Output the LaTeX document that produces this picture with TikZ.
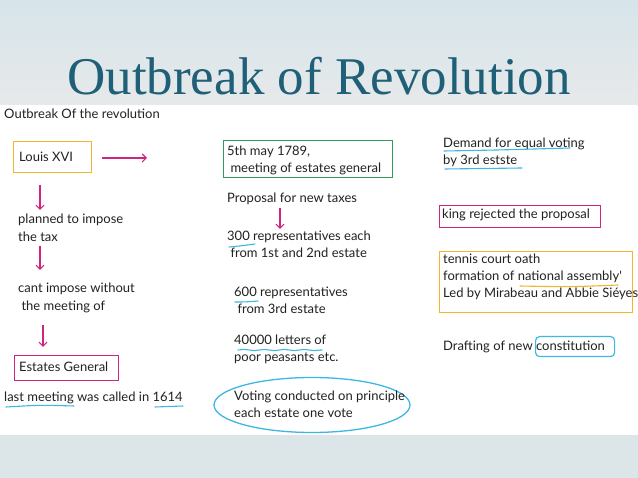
\documentclass[tikz,border=0pt]{standalone}
\usepackage{fontspec}
\setmainfont{Liberation Serif}
\newfontfamily\hand{Lato}
\usetikzlibrary{arrows.meta,shapes.geometric,decorations.pathmorphing}
\definecolor{titleblue}{HTML}{1F5F78}
\definecolor{mag}{HTML}{D0257F}
\definecolor{gold}{HTML}{F2B52C}
\definecolor{grn}{HTML}{2E9E57}
\definecolor{cyn}{HTML}{3DB8E3}
\definecolor{ink}{HTML}{222222}
\definecolor{bgtop}{HTML}{D6E5EA}
\definecolor{bgmid}{HTML}{E7E9EA}
\definecolor{bgbot}{HTML}{DCE6E9}
\tikzset{
  txt/.style={anchor=base west,inner sep=0pt,font=\hand\fontsize{13}{17}\selectfont,text=ink,align=left},
  boxy/.style={draw,line width=1.3pt,inner sep=0pt},
  arr/.style={draw=mag,line width=1.1pt,-{Straight Barb[length=4pt,width=8pt]}},
  uline/.style={draw=cyn,line width=1.1pt,line cap=round},
}
\begin{document}
\begin{tikzpicture}[x=1pt,y=-1pt]
\useasboundingbox (0,0) rectangle (638,478);
% background
\shade[top color=bgtop, bottom color=bgmid] (0,0) rectangle (638,106);
\fill[bgbot] (0,435) rectangle (638,478);
\fill[white] (0,105) rectangle (637,435);
% title
\node[anchor=base,text=titleblue,font=\fontsize{53}{57}\selectfont] (title) at (319,95) {Outbreak of Revolution};
\node[txt] (head) at (4,119) {Outbreak Of the revolution};

% left column
\node[boxy,draw=gold,minimum width=78,minimum height=31,anchor=north west] (louis) at (13,141) {};
\node[txt] (louist) at (19,162) {Louis XVI};
\coordinate (ha) at (102,158);
\coordinate (hb) at (147,158);
\draw[arr] (ha) -- (hb);
\coordinate (a1) at (40,185);
\coordinate (a1e) at (40,210);
\draw[arr] (a1) -- (a1e);
\node[txt,font=\hand\fontsize{13}{18}\selectfont] (plan) at (18,242) {planned to impose\\the tax};
\coordinate (a2) at (40,246);
\coordinate (a2e) at (40,270);
\draw[arr] (a2) -- (a2e);
\node[txt,font=\hand\fontsize{13}{18}\selectfont] (cant) at (18,311) {cant impose without\\\ the meeting of};
\coordinate (a3) at (43,325);
\coordinate (a3e) at (43,347);
\draw[arr] (a3) -- (a3e);
\node[boxy,draw=mag,minimum width=104,minimum height=25,anchor=north west] (eg) at (14,355) {};
\node[txt] (egt) at (19,372) {Estates General};
\node[txt] (last) at (4,402) {last meeting was called in 1614};
\draw[uline] (6,407) .. controls (40,405) .. (74,406);
\draw[uline] (155,407) -- (183,406);

% middle column
\node[boxy,draw=grn,minimum width=169,minimum height=37,anchor=north west] (green) at (223,140) {};
\node[txt] (gt) at (227,173) {5th may 1789,\\\ meeting of estates general};
\node[txt] (prop) at (227,203) {Proposal for new taxes};
\coordinate (a4) at (280,208);
\coordinate (a4e) at (280,229);
\draw[arr] (a4) -- (a4e);
\node[txt] (r300) at (227,258) {300 representatives each\\\ from 1st and 2nd estate};
\draw[uline] (229,247) .. controls (240,246) .. (255,244);
\node[txt] (r600) at (234,314) {600 representatives\\\ from 3rd estate};
\draw[uline] (235,302) .. controls (245,302) .. (258,301);
\node[txt] (lett) at (234,362) {40000 letters of\\poor peasants etc.};
\draw[uline,decorate,decoration={snake,amplitude=0.6pt,segment length=20pt}] (238,350) -- (322,350);
\node[draw=cyn,line width=1.3pt,ellipse,minimum width=196,minimum height=55,inner sep=0pt] (ell) at (312,405) {};
\node[txt] (vote) at (234,418) {Voting conducted on principle\\each estate one vote};

% right column
\node[txt] (dem) at (443,165) {Demand for equal voting\\by 3rd estste};
\draw[uline] (444,151) .. controls (500,150) .. (570,148);
\draw[uline] (445,169) -- (522,168);
\node[boxy,draw=mag,minimum width=161,minimum height=22,anchor=north west] (king) at (439,205) {};
\node[txt] (kingt) at (442,219) {king rejected the proposal};
\node[boxy,draw=gold,minimum width=193,minimum height=61,anchor=north west] (oath) at (439,251) {};
\node[txt] (oatht) at (443,298) {tennis court oath\\formation of national assembly'\\Led by Mirabeau and Abbie Siéyes};
\draw[draw=gold,line width=1.1pt,line cap=round] (520,286) .. controls (570,287) .. (618,285);
\node[txt] (draft) at (443,351) {Drafting of new constitution};
\node[draw=cyn,line width=1.2pt,rounded corners=4pt,minimum width=79,minimum height=20,inner sep=0pt,anchor=north west] (cons) at (535,336) {};
\end{tikzpicture}
\end{document}
